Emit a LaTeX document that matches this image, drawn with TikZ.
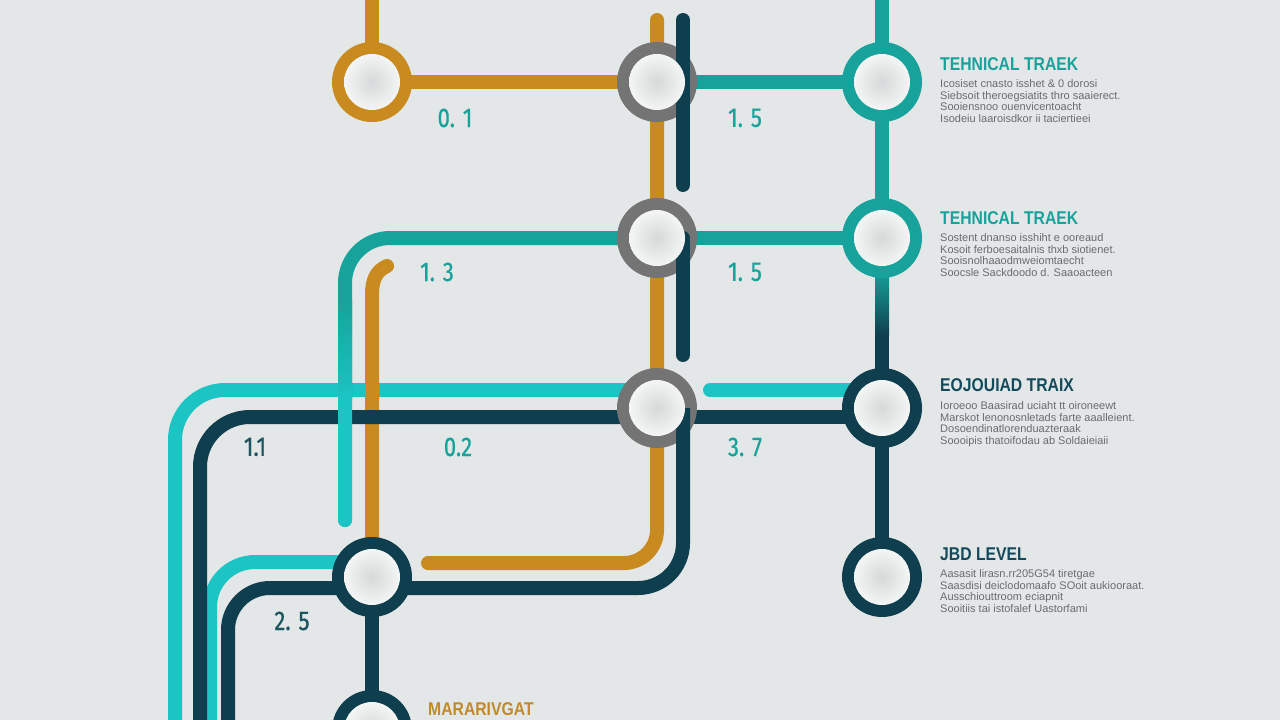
\documentclass[tikz,border=0pt]{standalone}
\usepackage{fontspec}
\setmainfont{Liberation Sans}
\newfontfamily\lblfont[FakeStretch=0.82,FakeBold=0.6]{Fira Sans}
\newfontfamily\ttlfont[FakeStretch=0.85]{Liberation Sans}
\newfontfamily\bodyfont{Liberation Sans}
\usetikzlibrary{calc}
\definecolor{bgc}{HTML}{E4E7E7}
\definecolor{orgc}{HTML}{C98A1F}
\definecolor{teac}{HTML}{17A39B}
\definecolor{cyac}{HTML}{1CC4C4}
\definecolor{navc}{HTML}{0F3F4F}
\definecolor{gryc}{HTML}{747474}
\definecolor{spotc}{HTML}{D6D9D9}
\definecolor{whtc}{HTML}{F4F5F5}
\definecolor{bodyc}{HTML}{6A6D70}
\definecolor{lblnav}{HTML}{1A5560}
\definecolor{ttlnav}{HTML}{134A5C}
\definecolor{mgtc}{HTML}{C08A2A}
\pgfdeclarelayer{back}\pgfdeclarelayer{bg}\pgfdeclarelayer{mid}\pgfdeclarelayer{fg}
\pgfsetlayers{back,bg,main,mid,fg}
\tikzset{
  metro/.style={line width=14pt},
  org/.style={metro, draw=orgc},
  tea/.style={metro, draw=teac},
  cya/.style={metro, draw=cyac},
  nav/.style={metro, draw=navc},
  station/.style={circle, minimum size=80pt, inner sep=0pt, fill=#1},
  lbl/.style={inner sep=0pt, font=\lblfont\fontsize{27}{27}\selectfont},
  ttl/.style={inner sep=0pt, anchor=base west, font=\ttlfont\bfseries\fontsize{18.5}{18.5}\selectfont},
  body/.style={inner sep=0pt, anchor=base west, text=bodyc, font=\bodyfont\fontsize{11}{11}\selectfont}
}
\begin{document}
\begin{tikzpicture}[x=1pt,y=-1pt]
\useasboundingbox (0,0) rectangle (1280,720);
\begin{pgfonlayer}{back}
  \fill[bgc] (0,0) rectangle (1280,720);
\end{pgfonlayer}
% stations (rings)
\node[station=orgc] (A) at (372,82) {};
\node[station=gryc] (B) at (657,82) {};
\node[station=teac] (C) at (882,82) {};
\node[station=gryc] (D) at (657,238) {};
\node[station=teac] (E) at (882,238) {};
\node[station=gryc] (F) at (657,408) {};
\node[station=navc] (G) at (882,408) {};
\node[station=navc] (H) at (372,577) {};
\node[station=navc] (I) at (882,577) {};
\node[station=navc] (J) at (372,730) {};
% lines behind the stations
\begin{pgfonlayer}{bg}
  % cyan
  \draw[cya, rounded corners=50pt] ($(F.center)+(0,-18)$) -| (175,760);
  \draw[cya, line cap=round] (710,390) -- ($(G.center)+(0,-18)$);
  \draw[cya, rounded corners=45pt] ($(H.center)+(0,-15)$) -| (210,760);
  % orange
  \draw[org] (372,-20) -- (A.center) -- (B.center);
  \draw[org, line cap=round, rounded corners=33pt] (657,20) |- (428,563);
  \draw[org, line cap=round] (387,266) .. controls (376,271) and (372,280) .. (372,295) -- (H.center);
  % navy
  \draw[nav, rounded corners=50pt] ($(F.center)+(0,9)$) -| (200,760);
  \draw[nav] ($(F.center)+(0,9)$) -- ($(G.center)+(0,9)$);
  \draw[nav, rounded corners=42pt] ($(H.center)+(0,11)$) -| (228,760);
  \draw[nav] (E.center) -- (G.center) -- (I.center);
  \shade[top color=teac, bottom color=navc] (875,270) rectangle (889,335);
  \draw[nav] (H.center) -- (J.center);
  % teal
  \draw[tea] (882,-20) -- (C.center) -- (E.center);
  \draw[tea] (B.center) -- (C.center);
  \draw[tea] (D.center) -- (E.center);
  \draw[tea, line cap=round, rounded corners=45pt] (D.center) -| (345,520);
  \shade[top color=teac, bottom color=cyac] (338,300) rectangle (352,400);
  \draw[cya, line cap=round] (345,399) -- (345,520);
\end{pgfonlayer}
% navy branch drawn over the grey rings
\begin{pgfonlayer}{mid}
  \draw[nav, line cap=round] (683,20) -- (683,185);
  \draw[nav, line cap=round] ($(D.center)+(26,0)$) -- (683,355);
  \draw[nav, rounded corners=45pt] ($(F.center)+(26,0)$) |- ($(H.center)+(0,11)$);
\end{pgfonlayer}
% white centres
\begin{pgfonlayer}{fg}
  \foreach \s in {A,B,C,D,E,F,G,H,I,J}
    \shade[inner color=spotc, outer color=whtc] (\s.center) circle[radius=28pt];
\end{pgfonlayer}
% labels
\node[lbl, text=teac] (l01) at (455,118) {0. 1};
\node[lbl, text=teac] (l15a) at (745,118) {1. 5};
\node[lbl, text=teac] (l13) at (437,272) {1. 3};
\node[lbl, text=teac] (l15b) at (745,272) {1. 5};
\node[lbl, text=lblnav] (l11) at (255,447) {1.1};
\node[lbl, text=teac] (l02) at (458,447) {0.2};
\node[lbl, text=teac] (l37) at (745,447) {3. 7};
\node[lbl, text=lblnav] (l25) at (292,621) {2. 5};
% text blocks
\node[ttl, text=teac] (t1) at (940,70) {TEHNICAL TRAEK};
\node[body] (t1a) at (940,87) {Icosiset cnasto isshet \& 0 dorosi};
\node[body] (t1b) at (940,99) {Siebsoit theroegsiatits thro saaierect.};
\node[body] (t1c) at (940,110) {Sooiensnoo ouenvicentoacht};
\node[body] (t1d) at (940,122) {Isodeiu laaroisdkor ii taciertieei};
\node[ttl, text=teac] (t2) at (940,224) {TEHNICAL TRAEK};
\node[body] (t2a) at (940,241) {Sostent dnanso isshiht e ooreaud};
\node[body] (t2b) at (940,253) {Kosoit ferboesaitalnis thxb siotienet.};
\node[body] (t2c) at (940,264) {Sooisnolhaaodmweiomtaecht};
\node[body] (t2d) at (940,276) {Soocsle Sackdoodo d. Saaoacteen};
\node[ttl, text=ttlnav] (t3) at (940,391) {EOJOUIAD TRAIX};
\node[body] (t3a) at (940,409) {Ioroeoo Baasirad uciaht tt oironeewt};
\node[body] (t3b) at (940,421) {Marskot lenonosnletads farte aaalleient.};
\node[body] (t3c) at (940,432) {Dosoendinatlorenduazteraak};
\node[body] (t3d) at (940,444) {Soooipis thatoifodau ab Soldaieiaii};
\node[ttl, text=ttlnav] (t4) at (940,560) {JBD LEVEL};
\node[body] (t4a) at (940,577) {Aasasit lirasn.rr205G54 tiretgae};
\node[body] (t4b) at (940,589) {Saasdisi deiclodomaafo SOoit aukiooraat.};
\node[body] (t4c) at (940,600) {Ausschiouttroom eciapnit};
\node[body] (t4d) at (940,612) {Sooitiis tai istofalef Uastorfami};
\node[ttl, text=mgtc] (t5) at (428,715) {MARARIVGAT};
\end{tikzpicture}
\end{document}
